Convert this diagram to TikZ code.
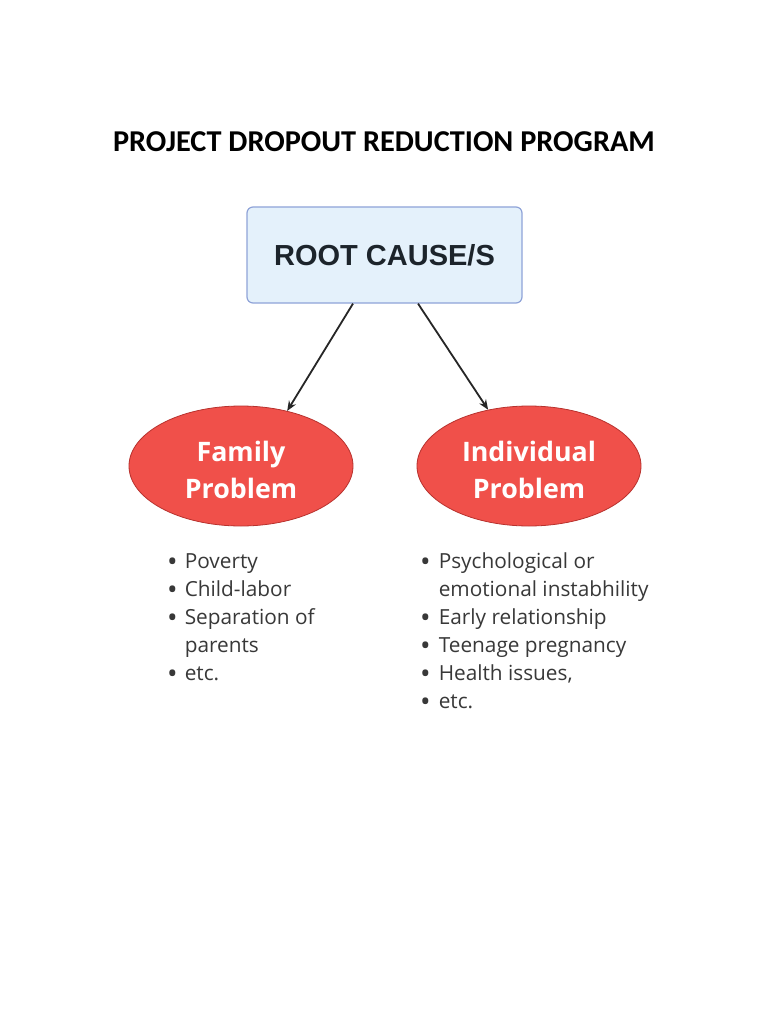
\documentclass[tikz,border=0pt]{standalone}
\usepackage{fontspec}
\setmainfont{Open Sans}
\newfontfamily\titlefont{Carlito}
\newfontfamily\rootfont{Liberation Sans}
\newfontfamily\ellfont{Open Sans}
\usetikzlibrary{shapes.geometric,arrows.meta}
\definecolor{boxfill}{HTML}{E4F1FB}
\definecolor{boxline}{HTML}{8FA3D8}
\definecolor{redfill}{HTML}{F0504A}
\definecolor{redline}{HTML}{B8322E}
\definecolor{listtext}{HTML}{383838}
\definecolor{roottext}{HTML}{1C242B}
\newcommand{\bul}{\raisebox{-3.5pt}{\scalebox{1.35}{\textbullet}}}
\tikzset{
  rootbox/.style={draw=boxline, line width=1.2pt, fill=boxfill, rounded corners=6pt,
    minimum width=275pt, minimum height=96pt, inner sep=0pt,
    font=\rootfont\bfseries\fontsize{29}{34}\selectfont, text=roottext},
  probell/.style={ellipse, draw=redline, line width=0.8pt, fill=redfill,
    minimum width=224pt, minimum height=120pt, inner sep=0pt},
  elltext/.style={align=center, inner sep=0pt,
    font=\ellfont\bfseries\fontsize{26.8}{37}\selectfont, text=white},
  arr/.style={-{Stealth[length=10pt,width=8pt]}, line width=1.8pt, black!85},
  listnode/.style={anchor=base west, inner sep=0pt, text=listtext,
    font=\fontsize{20.8}{28}\selectfont}
}
\begin{document}
\begin{tikzpicture}[x=1pt,y=-1pt]
\useasboundingbox[fill=white] (0,0) rectangle (768,1024);
\node[font=\titlefont\bfseries\fontsize{30.3}{34}\selectfont, anchor=base] (title) at (384,152) {PROJECT DROPOUT REDUCTION PROGRAM};
\node[rootbox] (root) at (384.5,255) {ROOT CAUSE/S};
\node[probell, label={[elltext, yshift=-4pt]center:{Family\\Problem}}] (fam) at (241,466) {};
\node[probell, label={[elltext, yshift=-4pt]center:{Individual\\Problem}}] (ind) at (529,466) {};
\draw[arr] ([xshift=-31.5pt]root.south) -- (fam.50);
\draw[arr] ([xshift=33.5pt]root.south) -- (ind.126);
\node[listnode] (famlist) at (167,568) {\begin{tabular}[t]{@{}l@{\hspace{7pt}}l@{}}
\bul & Poverty\\
\bul & Child-labor\\
\bul & Separation of\\
 & parents\\
\bul & etc.
\end{tabular}};
\node[listnode] (indlist) at (420,568) {\begin{tabular}[t]{@{}l@{\hspace{8pt}}l@{}}
\bul & Psychological or\\
 & emotional instabhility\\
\bul & Early relationship\\
\bul & Teenage pregnancy\\
\bul & Health issues,\\
\bul & etc.
\end{tabular}};
\end{tikzpicture}
\end{document}
